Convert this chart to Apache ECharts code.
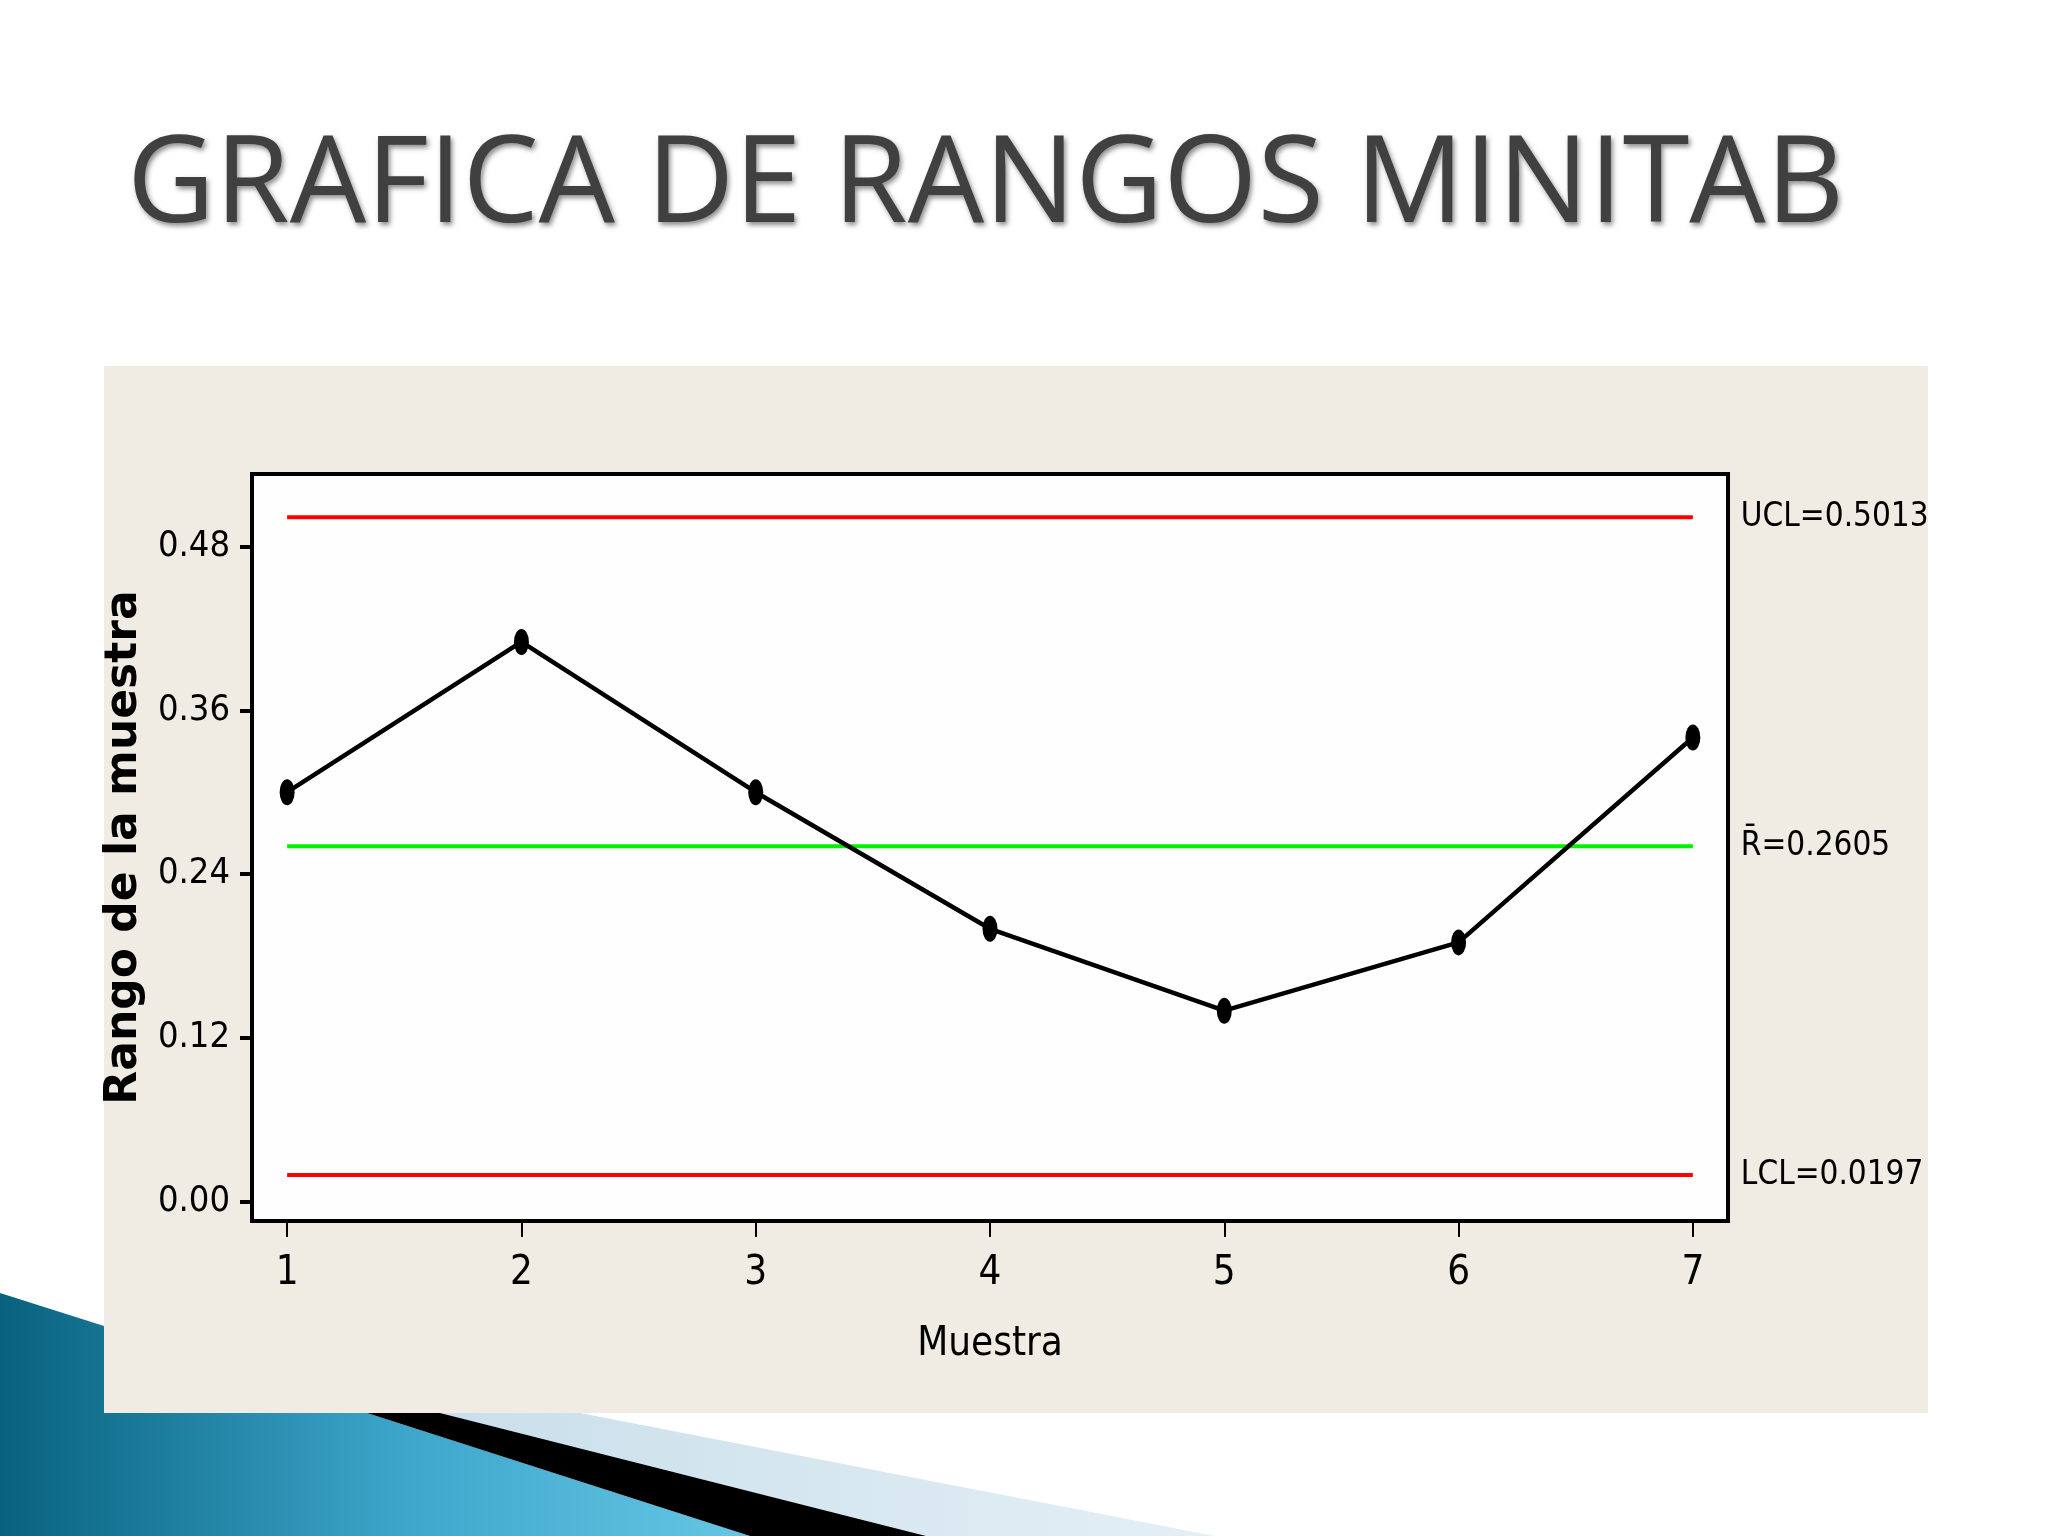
<!DOCTYPE html>
<html><head><meta charset="utf-8">
<script src="https://cdn.jsdelivr.net/npm/echarts@6/dist/echarts.min.js"></script>
<style>html,body{margin:0;padding:0;background:#ffffff}#c{width:2048px;height:1536px}</style>
</head><body><div id="c"></div><script>
const titleText = 'GRAFICA DE RANGOS MINITAB';
const samples = [1, 2, 3, 4, 5, 6, 7];
const ranges = [0.30, 0.41, 0.30, 0.20, 0.14, 0.19, 0.34];
const yTicks = [0, 0.12, 0.24, 0.36, 0.48];
const limitNames = ['UCL', 'R\u0304', 'LCL'];
const limitValues = [0.5013, 0.2605, 0.0197];
const limitColors = ['#ff0000', '#00f000', '#ff0000'];
const xName = 'Muestra';
const yName = 'Rango de la muestra';

const narrow = '"Liberation Sans Narrow", "DejaVu Sans Condensed", "Arial Narrow", sans-serif';

const chart = echarts.init(document.getElementById('c'), null, {renderer: 'canvas'});

const limitSeries = limitValues.map((v, i) => ({
  type: 'line',
  name: limitNames[i],
  data: [[samples[0], v], [samples[samples.length - 1], v]],
  symbol: 'none',
  lineStyle: {color: limitColors[i], width: 4},
  silent: true,
  z: 3,
  endLabel: {
    show: true,
    formatter: limitNames[i] + '=' + v.toFixed(4),
    distance: 48,
    color: '#000',
    fontFamily: narrow,
    fontSize: 33
  }
}));

const option = {
  animation: false,
  backgroundColor: '#ffffff',
  title: {
    text: titleText,
    left: 122,
    top: 122,
    textStyle: {
      fontFamily: '"Open Sans", "Noto Sans", sans-serif',
      fontWeight: 'normal',
      fontSize: 121,
      color: '#404040',
      textShadowColor: 'rgba(0,0,0,0.45)',
      textShadowBlur: 5,
      textShadowOffsetX: 2,
      textShadowOffsetY: 3
    }
  },
  graphic: [
    {type: 'polygon', z: -20, silent: true,
      shape: {points: [[0, 1293], [104, 1326], [104, 1413], [367, 1413], [750, 1536], [0, 1536]]},
      style: {fill: new echarts.graphic.LinearGradient(0, 0, 1, 0, [
        {offset: 0, color: '#08627f'}, {offset: 0.55, color: '#3ea7cc'}, {offset: 1, color: '#66c6e4'}])}},
    {type: 'polygon', z: -20, silent: true,
      shape: {points: [[440, 1413], [580, 1413], [1215, 1536], [926, 1536]]},
      style: {fill: new echarts.graphic.LinearGradient(0, 0, 1, 0, [
        {offset: 0, color: '#c9dfeb'}, {offset: 1, color: '#e4eff5'}])}},
    {type: 'polygon', z: -19, silent: true,
      shape: {points: [[367, 1413], [440, 1413], [926, 1536], [750, 1536]]},
      style: {fill: '#000000'}},
    {type: 'rect', z: -10, silent: true,
      shape: {x: 104, y: 366, width: 1824, height: 1047},
      style: {fill: '#f0ebe3'}}
  ],
  grid: {
    left: 252, top: 474, right: 320, bottom: 315,
    show: true, backgroundColor: '#fefefe', borderColor: '#000000', borderWidth: 4,
    containLabel: false
  },
  xAxis: {
    type: 'value',
    min: 0.85, max: 7.15,
    name: xName,
    nameLocation: 'middle',
    nameGap: 104,
    nameTextStyle: {fontFamily: narrow, fontSize: 40, color: '#000'},
    axisLine: {show: false, onZero: false},
    splitLine: {show: false},
    axisTick: {show: true, inside: false, length: 16, customValues: samples, lineStyle: {color: '#000', width: 2}},
    axisLabel: {customValues: samples, margin: 33, fontFamily: narrow, fontSize: 40, color: '#000',
      formatter: v => String(v)}
  },
  yAxis: {
    type: 'value',
    min: -0.014, max: 0.533,
    name: yName,
    nameLocation: 'middle',
    nameRotate: 90,
    nameGap: 86,
    nameTextStyle: {fontFamily: '"DejaVu Sans", sans-serif', fontWeight: 'bold', fontSize: 44, color: '#000'},
    axisLine: {show: false, onZero: false},
    splitLine: {show: false},
    axisTick: {show: true, inside: false, length: 12, customValues: yTicks, lineStyle: {color: '#000', width: 4}},
    axisLabel: {customValues: yTicks, margin: 22, fontFamily: narrow, fontSize: 36, color: '#000',
      formatter: v => v.toFixed(2)}
  },
  series: limitSeries.concat([{
    type: 'line',
    name: 'Rango',
    data: samples.map((s, i) => [s, ranges[i]]),
    symbol: 'circle',
    symbolSize: [15, 26],
    itemStyle: {color: '#000'},
    lineStyle: {color: '#000', width: 4.5},
    z: 5
  }])
};
chart.setOption(option);
</script></body></html>
